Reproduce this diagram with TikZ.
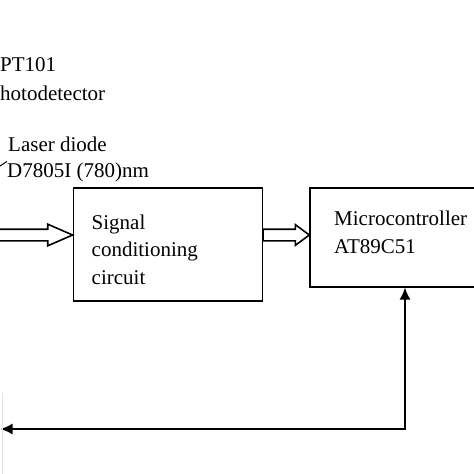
\documentclass[tikz,border=0pt]{standalone}
\usepackage{fontspec}
\setmainfont{Liberation Serif}
\usetikzlibrary{shapes.arrows,arrows.meta}

\tikzset{
    blockbox/.style={draw, line width=1.8pt, rectangle, inner sep=0pt},
    boxtext/.style={align=left, inner sep=0pt, anchor=base west, font=\fontsize{21}{27.5}\selectfont},
    plaintext/.style={inner sep=0pt, anchor=base west, font=\fontsize{21}{28}\selectfont},
    hollowarrow/.style={draw, line width=1.6pt, single arrow, inner xsep=0pt, inner ysep=5pt, outer sep=0pt},
    fbline/.style={line width=1.7pt, {Latex[length=12pt,width=11pt]}-{Latex[length=12pt,width=11pt]}}
}

\begin{document}
\begin{tikzpicture}[x=1pt, y=-1pt]
    % MARC DE LA IMATGE
    \clip (0,0) rectangle (474,474);
    \fill[white] (0,0) rectangle (474,474);

    % TEXTOS DE L'ESQUERRA
    \node[plaintext] (pt) at (0,71.5) {PT101};
    \node[plaintext] (photo) at (0,100) {hotodetector};
    \node[plaintext] (laser) at (8,151.5) {Laser diode};
    \node[plaintext] (wave) at (7,177) {D7805I (780)nm};
    \draw[line width=1pt] (0,166) .. controls (3,163) .. (7,161.5);

    % BLOCS (la base del text és la de l'última línia)
    \node[blockbox, minimum width=189pt, minimum height=113pt] (scc) at (168,244.3) {};
    \node[boxtext] (scctext) at (91.5,284) {Signal\\conditioning\\circuit};
    \node[blockbox, minimum width=180pt, minimum height=99pt, anchor=north west] (mcu) at (309.3,186.7) {};
    \node[boxtext] (mcutext) at (334,253) {Microcontroller\\AT89C51};

    % FLETXES BUIDES
    \node[hollowarrow, minimum height=74pt, single arrow head extend=5pt, single arrow tip angle=47, anchor=tip] (arrin) at (scc.west |- 0,235) {};
    \node[hollowarrow, minimum height=46.3pt, single arrow head extend=4.5pt, single arrow tip angle=73, anchor=tip] (arrout) at (mcu.west |- 0,235) {};

    % REALIMENTACIÓ
    \coordinate (fbcorner) at (405,429);
    \coordinate (fbend) at (0.5,429);
    \draw[fbline] (fbend) -- (fbcorner) -- (fbcorner |- mcu.south);

    % VORA TALLADA
    \draw[gray!20, line width=1.5pt] (2.5,393) -- (2.5,474);
\end{tikzpicture}
\end{document}
